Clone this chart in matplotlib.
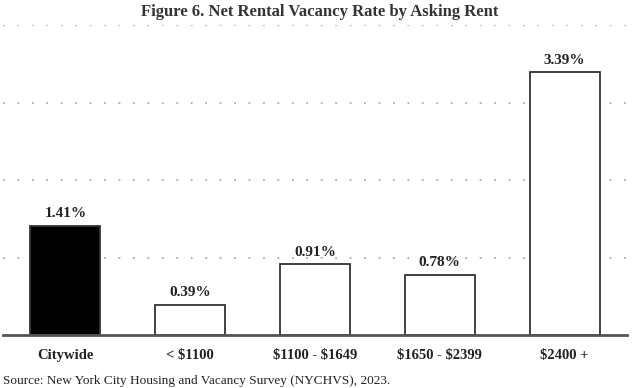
import matplotlib
matplotlib.use("Agg")
import matplotlib.pyplot as plt

categories = ["Citywide", "< \\$1100", "\\$1100 - \\$1649", "\\$1650 - \\$2399", "\\$2400 +"]
values = [1.41, 0.39, 0.91, 0.78, 3.39]
value_labels = ["1.41%", "0.39%", "0.91%", "0.78%", "3.39%"]
fill_colors = ["#000000", "#ffffff", "#ffffff", "#ffffff", "#ffffff"]

plt.rcParams['font.family'] = ['Liberation Serif', 'DejaVu Serif']

fig = plt.figure(figsize=(6.4, 3.88), dpi=100)
ax = fig.add_axes([3/640, 1 - 335/388, 624/640, (335 - 25)/388])

x = list(range(len(categories)))
ax.bar(x, values, width=0.56, color=fill_colors, edgecolor="#333333", linewidth=1.3, zorder=3)

for xi, v, lab in zip(x, values, value_labels):
    ax.text(xi, v + 0.07, lab, ha="center", va="bottom", fontsize=11, fontweight="bold", color="#222222")

ax.set_xlim(-0.5, 4.5)
ax.set_ylim(0, 4)
for g in [1, 2, 3, 4]:
    ax.axhline(g, color="#aaaaaa", linestyle=(0, (1, 7)), linewidth=1.3, zorder=1)

for s in ["top", "right", "left"]:
    ax.spines[s].set_visible(False)
ax.spines["bottom"].set_color("#555555")
ax.spines["bottom"].set_linewidth(2)
ax.spines["bottom"].set_zorder(4)
ax.set_yticks([])
ax.set_xticks(x)
ax.set_xticklabels(categories, fontsize=10.5, fontweight="bold", color="#222222")
ax.tick_params(axis="x", length=0, pad=10)

fig.text(0.5, 1 - 12/388, "Figure 6. Net Rental Vacancy Rate by Asking Rent", ha="center", va="center",
         fontsize=12, fontweight="bold", color="#333333")
fig.text(3/640, 1 - 381/388, "Source: New York City Housing and Vacancy Survey (NYCHVS), 2023.",
         ha="left", va="center", fontsize=9.5, color="#222222")

fig.savefig("out.png", dpi=100)
